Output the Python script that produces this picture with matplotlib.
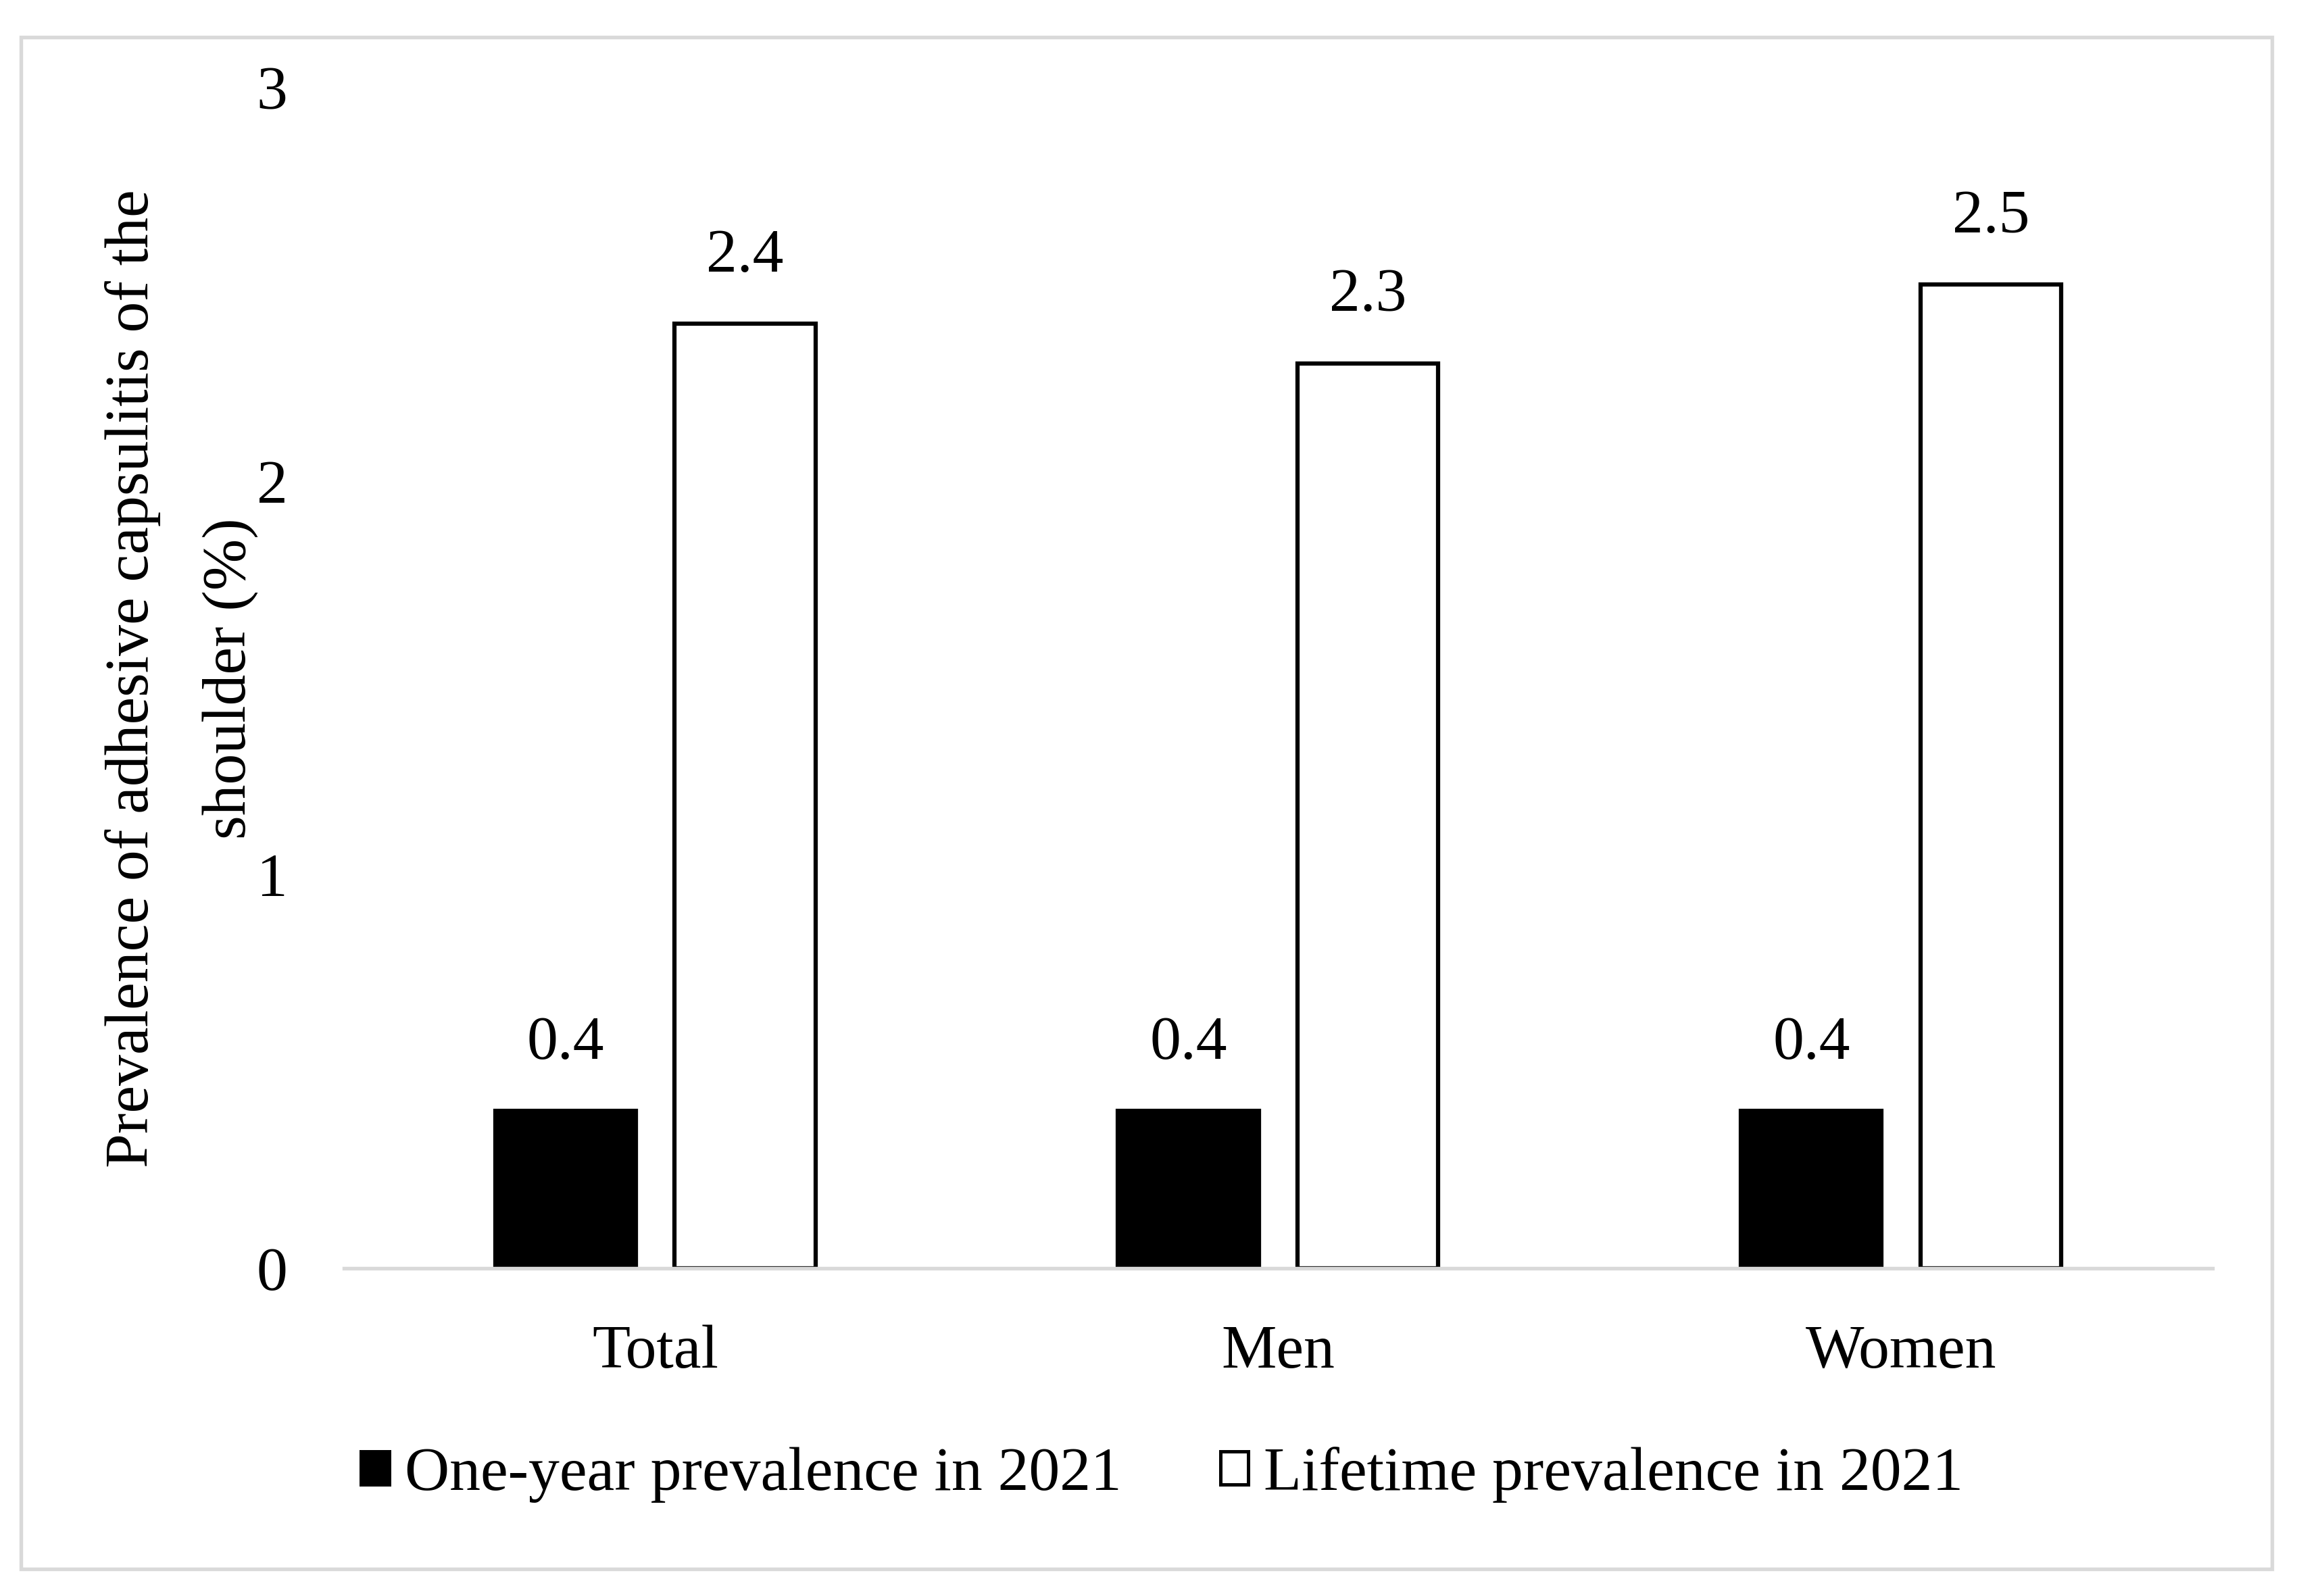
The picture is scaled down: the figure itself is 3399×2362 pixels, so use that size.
import matplotlib
matplotlib.use("Agg")
import matplotlib.pyplot as plt
import numpy as np
from matplotlib.patches import Rectangle, Patch

categories = ["Total", "Men", "Women"]
one_year = [0.4, 0.4, 0.4]
lifetime = [2.4, 2.3, 2.5]
series_names = ["One-year prevalence in 2021", "Lifetime prevalence in 2021"]
yticks = [0, 1, 2, 3]
ylabel = "Prevalence of adhesive capsulitis of the\nshoulder (%)"

plt.rcParams['font.family'] = ['Liberation Serif', 'DejaVu Serif']
FS = 22

W, H, DPI = 3399, 2362, 300
fig = plt.figure(figsize=(W / DPI, H / DPI), dpi=DPI)
ax = fig.add_axes([0.1497, 0.2053, 0.9632 - 0.1497, 0.945 - 0.2053])

x = np.arange(len(categories))
bw = 0.226
off = 0.144
b1 = ax.bar(x - off, one_year, bw, color='black', edgecolor='black', linewidth=1.5)
b2 = ax.bar(x + off, lifetime, bw, color='white', edgecolor='black', linewidth=1.5)

for bars, vals in ((b1, one_year), (b2, lifetime)):
    for r, v in zip(bars, vals):
        ax.annotate(f"{v:.1f}", (r.get_x() + r.get_width() / 2, v),
                    xytext=(0, 14), textcoords='offset points',
                    ha='center', va='bottom', fontsize=FS)

ax.set_xlim(-0.5, 2.5)
ax.set_ylim(0, 3)
ax.set_yticks(yticks)
ax.set_yticklabels([str(t) for t in yticks], fontsize=FS)
ax.set_xticks(x)
ax.set_xticklabels(categories, fontsize=FS)
ax.tick_params(axis='both', length=0)
ax.tick_params(axis='y', pad=20)
ax.tick_params(axis='x', pad=20)
for s in ('top', 'right', 'left'):
    ax.spines[s].set_visible(False)
ax.spines['bottom'].set_color('#d9d9d9')
ax.spines['bottom'].set_linewidth(1.3)

fig.text(0.079, 0.575, ylabel, rotation=90, ha='center', va='center',
         fontsize=FS, linespacing=1.95, multialignment='center')

handles = [Patch(facecolor='black', edgecolor='black', linewidth=1.2),
           Patch(facecolor='white', edgecolor='black', linewidth=1.2)]
fig.legend(handles, series_names, loc='center', bbox_to_anchor=(0.506, 0.0758),
           ncol=2, frameon=False, fontsize=FS, handlelength=0.45, handleheight=0.45,
           handletextpad=0.25, columnspacing=1.6)

border = Rectangle((31 / W, 1 - 2322 / H), (3362 - 31) / W, (2322 - 55) / H,
                   transform=fig.transFigure, fill=False, edgecolor='#d9d9d9',
                   linewidth=1.3)
fig.add_artist(border)

fig.savefig("out.png", dpi=DPI, facecolor='white')
